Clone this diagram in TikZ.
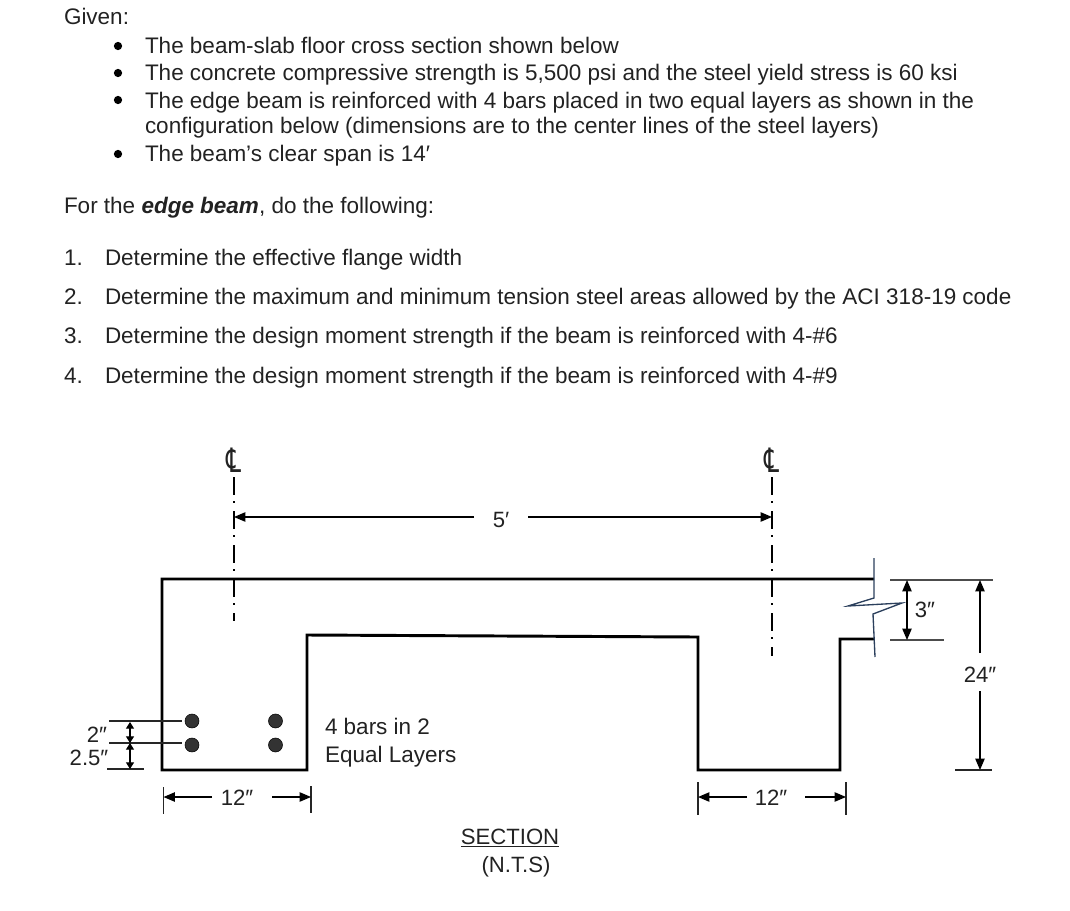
\documentclass[tikz,border=0pt]{standalone}
\usepackage{fontspec}
\usepackage{graphicx}
\setmainfont{Liberation Sans}
\newfontfamily\symfont{DejaVu Sans}
\usetikzlibrary{arrows.meta}
\definecolor{txt}{HTML}{222222}
\definecolor{barc}{HTML}{333333}
\definecolor{brk}{HTML}{2B3F5C}
\tikzset{
  x=0.75pt,y=-0.75pt,
  every node/.style={inner sep=0pt,outer sep=0pt,text=txt,font=\fontsize{16.87}{20}\selectfont},
  line/.style={anchor=base west},
  lab/.style={anchor=center,font=\fontsize{16.6}{20}\selectfont},
  bul/.style={circle,fill=black,minimum size=6.2pt},
  bar/.style={circle,fill=barc,draw=black,line width=0.4pt,minimum size=10.5pt},
  wall/.style={line width=2.2pt,line join=miter},
  thin/.style={line width=0.9pt,black},
  ext/.style={line width=1pt,black!85},
  dimar/.style={line width=0.9pt,black,-{Triangle[length=8.5pt,width=7pt]}},
  dimbi/.style={line width=0.9pt,black,{Triangle[length=8.5pt,width=7pt]}-{Triangle[length=8.5pt,width=7pt]}},
  dimsm/.style={line width=0.9pt,black,{Triangle[length=5pt,width=6pt]}-{Triangle[length=5pt,width=6pt]}},
  cline/.style={line width=1pt,black,dash pattern=on 13.5pt off 4.5pt on 1.5pt off 6pt},
  cl/.style={anchor=center,font=\symfont\fontsize{14}{16}\selectfont},
}
\begin{document}
\begin{tikzpicture}
\useasboundingbox (0,0) rectangle (1070,910);
% text block
\node[line] (given) at (64,24) {Given:};
\node[bul] (b1) at (118,46) {};
\node[bul] (b2) at (118,73) {};
\node[bul] (b3) at (118,100) {};
\node[bul] (b4) at (118,154) {};
\node[line] (t1) at (145,53) {The beam-slab floor cross section shown below};
\node[line] (t2) at (145,80) {The concrete compressive strength is 5,500 psi and the steel yield stress is 60 ksi};
\node[line] (t3) at (145,108) {The edge beam is reinforced with 4 bars placed in two equal layers as shown in the};
\node[line] (t3b) at (145,133) {configuration below (dimensions are to the center lines of the steel layers)};
\node[line] (t4) at (145,161) {The beam’s clear span is 14′};
\node[line] (for) at (64,213) {For the \textbf{\textit{edge beam}}, do the following:};
\node[line] (n1) at (64,265) {1.};
\node[line] (s1) at (105,265) {Determine the effective flange width};
\node[line] (n2) at (64,304) {2.};
\node[line] (s2) at (105,304) {Determine the maximum and minimum tension steel areas allowed by the ACI 318-19 code};
\node[line] (n3) at (64,343) {3.};
\node[line] (s3) at (105,343) {Determine the design moment strength if the beam is reinforced with 4-\#6};
\node[line] (n4) at (64,383) {4.};
\node[line] (s4) at (105,383) {Determine the design moment strength if the beam is reinforced with 4-\#9};
% center lines
\node[cl] (cla) at (234,460) {\scalebox{1.25}[1.8]{℄}};
\node[cl] (clb) at (772,460) {\scalebox{1.25}[1.8]{℄}};
\coordinate (cla1) at (234,477);
\coordinate (cla2) at (234,621);
\coordinate (clb1) at (772,477);
\coordinate (clb2) at (772,656);
\draw[cline] (cla1) -- (cla2);
\draw[cline] (clb1) -- (clb2);
% section outline
\coordinate (tl) at (162,579);
\coordinate (tr) at (874,579);
\coordinate (bl) at (162,770);
\coordinate (b2c) at (307,770);
\coordinate (i1) at (307,635);
\coordinate (i2) at (698,637);
\coordinate (b3c) at (698,770);
\coordinate (b4c) at (840,770);
\coordinate (i3) at (840,639);
\coordinate (i4) at (874,639);
\draw[wall] (tr) -- (tl) -- (bl) -- (b2c) -- (i1) -- (i2) -- (b3c) -- (b4c) -- (i3) -- (i4);
% break line
\coordinate (k0) at (874,558);
\coordinate (k1) at (874,598);
\coordinate (k2) at (848,606);
\coordinate (k3) at (902,603);
\coordinate (k4) at (873,614);
\coordinate (k5) at (875,657);
\draw[brk,line width=1pt] (k0) -- (k1) -- (k2) -- (k3) -- (k4) -- (k5);
% bars
\node[bar] (r1) at (192,721) {};
\node[bar] (r2) at (192,745) {};
\node[bar] (r3) at (275.5,721) {};
\node[bar] (r4) at (275.5,745) {};
% 5 ft
\node[lab] (d5) at (501,520) {5′};
\coordinate (d5a) at (474,517);
\coordinate (d5b) at (234,517);
\coordinate (d5c) at (528,517);
\coordinate (d5d) at (772,517);
\draw[dimar] (d5a) -- (d5b);
\draw[dimar] (d5c) -- (d5d);
% 3 in
\coordinate (e1) at (890,580);
\coordinate (e2) at (993,580);
\coordinate (e3) at (890,640);
\coordinate (e4) at (944,640);
\draw[ext,line width=1.2pt,black!70] (e1) -- (e2);
\draw[ext,line width=1.2pt,black!70] (e3) -- (e4);
\coordinate (a3a) at (907,580);
\coordinate (a3b) at (907,640);
\draw[dimbi] (a3a) -- (a3b);
\node[lab] (d3) at (925,610) {3″};
% 24 in
\node[lab] (d24) at (980,675) {24″};
\coordinate (a24a) at (980,653);
\coordinate (a24b) at (980,580);
\coordinate (a24c) at (980,691);
\coordinate (a24d) at (980,770);
\draw[dimar] (a24a) -- (a24b);
\draw[dimar] (a24c) -- (a24d);
\coordinate (e5) at (955,770);
\coordinate (e6) at (992,770);
\draw[ext] (e5) -- (e6);
% left dims
\coordinate (l1) at (109,721);
\coordinate (l2) at (182,721);
\coordinate (l3) at (109,743);
\coordinate (l4) at (182,743);
\coordinate (l5) at (107,769);
\coordinate (l6) at (144,769);
\draw[ext] (l1) -- (l2);
\draw[ext] (l3) -- (l4);
\draw[ext] (l5) -- (l6);
\coordinate (la) at (130,722);
\coordinate (lb) at (130,743);
\coordinate (lc) at (130,769);
\draw[dimsm] (la) -- (lb);
\draw[dimsm] (lb) -- (lc);
\node[lab] (d2) at (97,735) {2″};
\node[lab] (d25) at (89,758) {2.5″};
% 12 in left
\coordinate (m1) at (163.5,787);
\coordinate (m2) at (163.5,814);
\coordinate (m3) at (311,786);
\coordinate (m4) at (311,813);
\draw[ext] (m1) -- (m2);
\draw[ext] (m3) -- (m4);
\coordinate (ma) at (212,797);
\coordinate (mb) at (163.5,797);
\coordinate (mc) at (272,797);
\coordinate (md) at (311,797);
\draw[dimar] (ma) -- (mb);
\draw[dimar] (mc) -- (md);
\node[lab] (d12a) at (237,798) {12″};
% 12 in right
\coordinate (p1) at (698,782);
\coordinate (p2) at (698,815);
\coordinate (p3) at (846,782);
\coordinate (p4) at (846,815);
\draw[ext] (p1) -- (p2);
\draw[ext] (p3) -- (p4);
\coordinate (pa) at (747,797);
\coordinate (pb) at (698,797);
\coordinate (pc) at (805,797);
\coordinate (pd) at (846,797);
\draw[dimar] (pa) -- (pb);
\draw[dimar] (pc) -- (pd);
\node[lab] (d12b) at (771,798) {12″};
% notes
\node[line] (bars1) at (325,734) {4 bars in 2};
\node[line] (bars2) at (325,762) {Equal Layers};
\node[lab] (sec) at (510,838) {\underline{SECTION}};
\node[lab] (nts) at (516,867) {(N.T.S)};
\end{tikzpicture}
\end{document}
